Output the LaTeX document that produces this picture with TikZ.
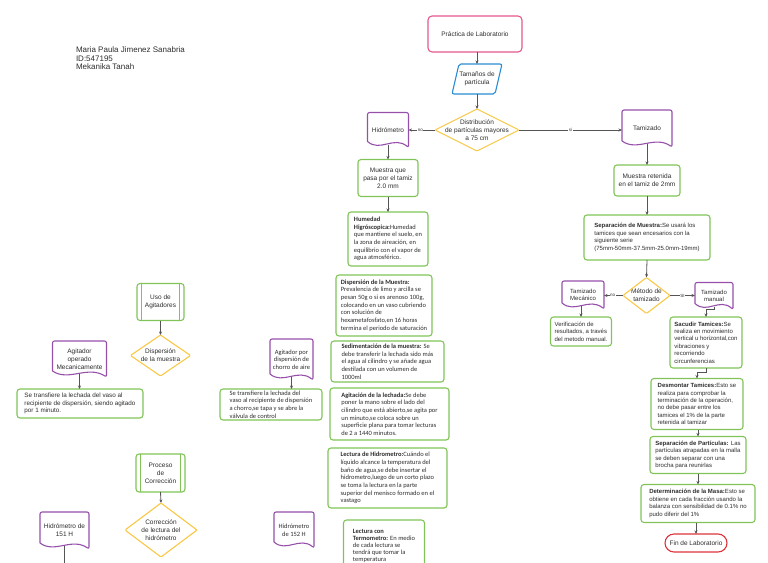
\documentclass[tikz,border=0pt]{standalone}
\usepackage{fontspec}
\setmainfont{Liberation Sans}
\newfontfamily\carl{Carlito}
\usetikzlibrary{calc,arrows.meta}
\definecolor{grn}{RGB}{128,196,88}
\definecolor{pnk}{RGB}{228,88,140}
\definecolor{blu}{RGB}{40,140,210}
\definecolor{ylw}{RGB}{250,200,70}
\definecolor{prp}{RGB}{150,80,170}
\definecolor{rd}{RGB}{220,50,60}
\definecolor{cgr}{RGB}{85,85,85}
\definecolor{txt}{RGB}{45,45,45}
\tikzset{
  every node/.style={text=txt, inner sep=1.5pt, outer sep=0pt},
  fc/.style={font=\fontsize{6.5}{7.8}\selectfont, align=center},
  fa/.style={font=\fontsize{6}{7.4}\selectfont, align=left},
  fcb/.style={font=\carl\fontsize{6.5}{7.7}\selectfont, align=left},
  gbox/.style={draw=grn, line width=1.1pt, rounded corners=3pt},
  docline/.style={draw=prp, line width=1.1pt, rounded corners=2pt},
  diamline/.style={draw=ylw, line width=1.1pt, rounded corners=1pt},
  paraline/.style={draw=blu, line width=1.1pt, rounded corners=2pt},
  procline/.style={draw=grn, line width=1.1pt},
  conn/.style={draw=cgr, line width=0.8pt, -{Stealth[length=3.5pt,width=3pt]}},
  plainline/.style={draw=cgr, line width=0.8pt},
  lab/.style={font=\fontsize{4.5}{5}\selectfont, fill=white, inner sep=0.5pt},
  sz/.style 2 args={minimum width=#1pt, minimum height=#2pt}
}
\newcommand\docshape[1]{%
  \draw[docline] ($(#1.south west)+(0pt,6pt)$) -- (#1.north west) -- (#1.north east) -- (#1.south east)
    .. controls ($(#1.south west)!0.65!(#1.south east)+(0pt,12pt)$) and ($(#1.south west)!0.3!(#1.south east)+(0pt,-5pt)$) .. ($(#1.south west)+(0pt,6pt)$);}
\newcommand\procshape[1]{%
  \draw[procline] ($(#1.north west)+(4.5pt,0pt)$) -- ($(#1.south west)+(4.5pt,0pt)$)
    ($(#1.north east)+(-4.5pt,0pt)$) -- ($(#1.south east)+(-4.5pt,0pt)$);}
\newcommand\diamshape[1]{%
  \draw[diamline] (#1.west) -- (#1.north) -- (#1.east) -- (#1.south) -- cycle;}
\begin{document}
\begin{tikzpicture}[x=1pt,y=-1pt]
\useasboundingbox (0,0) rectangle (768,562);
\clip (0,0) rectangle (768,562);

% header
\node[anchor=north west, align=left, inner sep=0pt, font=\fontsize{8}{8.5}\selectfont] (hdr) at (76,47)
  {Maria Paula Jimenez Sanabria\\ID:547195\\Mekanika Tanah};

% top
\node[fc, draw=pnk, line width=1.1pt, rounded corners=4pt, sz={94}{36}] (prac) at (475,34) {Práctica de Laboratorio};
\node[fc, sz={50}{30}] (tam) at (477,79) {Tamaños de\\partícula};
\draw[paraline] (tam.south west) -- ($(tam.north west)+(7pt,0pt)$) -- (tam.north east) -- ($(tam.south east)+(-7pt,0pt)$) -- cycle;
\node[fc, sz={84}{42}] (dist) at (477,130) {Distribución\\de partículas mayores\\a 75 cm};
\diamshape{dist}

% left branch (hidrometro)
\node[fc, sz={41}{35}] (hid) at (388,130) {Hidrómetro};
\docshape{hid}
\node[fc, gbox, sz={60}{37}] (mq) at (388,178) {Muestra que\\pasa por el tamiz\\2.0 mm};
\node[fcb, gbox, sz={80}{54}] (hum) at (388,239) {\textbf{Humedad}\\\textbf{Higróscopica:}Humedad\\que mantiene el suelo, en\\la zona de aireación, en\\equilibrio con el vapor de\\agua atmosférico.};
\node[fcb, gbox, sz={96}{61}] (disp) at (384,305.5) {\textbf{Dispersión de la Muestra:}\\Prevalencia de limo y arcilla se\\pesan 50g o si es arenoso 100g,\\colocando en un vaso cubriendo\\con solución de\\hexametafosfato,en 16 horas\\termina el periodo de saturación};
\node[fcb, gbox, sz={113}{41}] (sed) at (387.5,361.5) {\textbf{Sedimentación de la muestra:} Se\\debe transferir la lechada sido más\\el agua al cilindro y se añade agua\\destilada con un volumen de\\1000ml};
\node[fcb, gbox, sz={119}{52}] (agi) at (389.5,414) {\textbf{Agitación de la lechada:}Se debe\\poner la mano sobre el lado del\\cilindro que está abierto,se agita por\\un minuto,se coloca sobre un\\superficie plana para tomar lecturas\\de 2 a 1440 minutos.};
\node[fcb, gbox, sz={119}{60}] (lech) at (387.5,478) {\textbf{Lectura de Hidrometro:}Cuándo el\\líquido alcance la temperatura del\\baño de agua,se debe insertar el\\hidrometro,luego de un corto plazo\\se toma la lectura en la parte\\superior del menisco formado en el\\vastago};
\node[fcb, font=\carl\fontsize{6.5}{7.1}\selectfont, gbox, sz={81}{52}, anchor=north] (term) at (384,520) {\textbf{Lectura con}\\\textbf{Termometro:} En medio\\de cada lectura se\\tendrá que tomar la\\temperatura};

% right branch (tamizado)
\node[fc, sz={50}{37}] (tamz) at (647,128.5) {Tamizado};
\docshape{tamz}
\node[fc, gbox, sz={66}{31}] (mret) at (647,180.5) {Muestra retenida\\en el tamiz de 2mm};
\node[fa, gbox, sz={126}{45}] (sepm) at (647,237.5) {\textbf{Separación de Muestra:}Se usará los\\tamices que sean encesarios con la\\siguiente serie\\(75mm-50mm-37.5mm-25.0mm-19mm)};
\node[fc, sz={47}{36}] (met) at (646.5,295.5) {Método de\\tamizado};
\diamshape{met}
\node[fc, font=\fontsize{6}{7.4}\selectfont, sz={42}{28}] (tmec) at (583,295) {Tamizado\\Mecánico};
\docshape{tmec}
\node[fc, font=\fontsize{6}{7.4}\selectfont, sz={38}{27}] (tman) at (714,296) {Tamizado\\manual};
\docshape{tman}
\node[fa, gbox, sz={61}{29}] (ver) at (581,331.5) {Verificación de\\resultados, a través\\del metodo manual.};
\node[fa, gbox, sz={72}{51}] (sac) at (706,342.5) {\textbf{Sacudir Tamices:}Se\\realiza en movimiento\\vertical u horizontal,con\\vibraciones y\\recorriendo\\circunferencias};
\node[fa, gbox, sz={92}{51}] (desm) at (697,404) {\textbf{Desmontar Tamices:}Esto se\\realiza para comprobar la\\terminación de la operación,\\no debe pasar entre los\\tamices el 1\% de la parte\\retenida al tamizar};
\node[fa, gbox, sz={96}{37}] (sepp) at (698,455) {\textbf{Separación de Partículas:} Las\\partículas atrapadas en la malla\\se deben separar con una\\brocha para reunirlas};
\node[fa, gbox, sz={114}{38}] (det) at (698,503.5) {\textbf{Determinación de la Masa:}Esto se\\obtiene en cada fracción usando la\\balanza con sensibilidad de 0.1\% no\\pudo diferir del 1\%};
\node[fc, draw=rd, line width=1.1pt, rounded corners=9pt, sz={62}{18}] (fin) at (696,543) {Fin de Laboratorio};

% left column
\node[fc, gbox, sz={47}{37}] (uso) at (160.5,302) {Uso de\\Agitadores};
\procshape{uso}
\node[fc, sz={60}{41}] (dm) at (160.5,355.5) {Dispersión\\de la muestra};
\diamshape{dm}
\node[fc, sz={54}{36}] (agm) at (79.5,359) {Agitador\\operado\\Mecanicamente};
\docshape{agm}
\node[fa, font=\fontsize{6.3}{7.6}\selectfont, gbox, sz={126}{29}] (tr1) at (80,403.5) {Se transfiere la lechada del vaso al\\recipiente de dispersión, siendo agitado\\por 1 minuto.};
\node[fcb, align=center, sz={43}{41}] (agc) at (291.5,359.5) {Agitador por\\dispersión de\\chorro de aire};
\docshape{agc}
\node[fcb, gbox, sz={102}{31}] (tr2) at (271,404.5) {Se transfiere la lechada del\\vaso al recipiente de dispersión\\a chorro,se tapa y se abre la\\válvula de control};
\node[fc, gbox, sz={49}{38}] (proc) at (160.5,473) {Proceso\\de\\Corrección};
\procshape{proc}
\node[fc, sz={72}{54}] (cor) at (161,530) {Corrección\\de lectura del\\hidrómetro};
\diamshape{cor}
\node[fc, sz={49}{37}] (h151) at (64.5,530.5) {Hidrómetro de\\151 H};
\docshape{h151}
\node[fcb, align=center, sz={40}{36}] (h152) at (294,530) {Hidrómetro\\de 152 H};
\docshape{h152}
\coordinate (h151end) at (64.5,575);

% connectors
\draw[conn] (prac.south -| tam.north) -- (tam.north);
\draw[conn] (tam.south) -- (dist.north);
\draw[conn] (dist.west) -- node[lab, pos=0.55] {no} (dist.west -| hid.east);
\draw[conn] (dist.east) -- node[lab, pos=0.5] {si} (dist.east -| tamz.west);
\draw[conn] ([yshift=3pt]hid.south) -- (mq.north);
\draw[conn] (mq.south) -- (hum.north);
\draw[conn] ([yshift=3pt]tamz.south) -- (mret.north);
\draw[conn] (mret.south) -- (sepm.north);
\draw[conn] (sepm.south) -- (met.north);
\draw[conn] (met.west) -- node[lab, pos=0.55] {no} (met.west -| tmec.east);
\draw[conn] (met.east) -- node[lab, pos=0.5] {SI} (met.east -| tman.west);
\draw[conn] ([yshift=3pt]tmec.south -| ver.north) -- (ver.north);
\draw[conn] ([yshift=3pt]tman.south) -- ++(0,3) -| (sac.north);
\draw[conn] (sac.south) -- ++(0,4) -| (desm.north);
\draw[conn] (desm.south -| sepp.north) -- (sepp.north);
\draw[conn] (sepp.south -| det.north) -- (det.north);
\draw[conn] (det.south -| fin.north) -- (fin.north);
\draw[conn] (uso.south) -- (dm.north);
\draw[conn] ([yshift=3pt]agm.south) -- (agm.south |- tr1.north);
\draw[conn] ([yshift=3pt]agc.south) -- (agc.south |- tr2.north);
\draw[conn] (proc.south) -- (cor.north);
\draw[plainline] ([yshift=3pt]h151.south) -- (h151end);
\end{tikzpicture}
\end{document}
